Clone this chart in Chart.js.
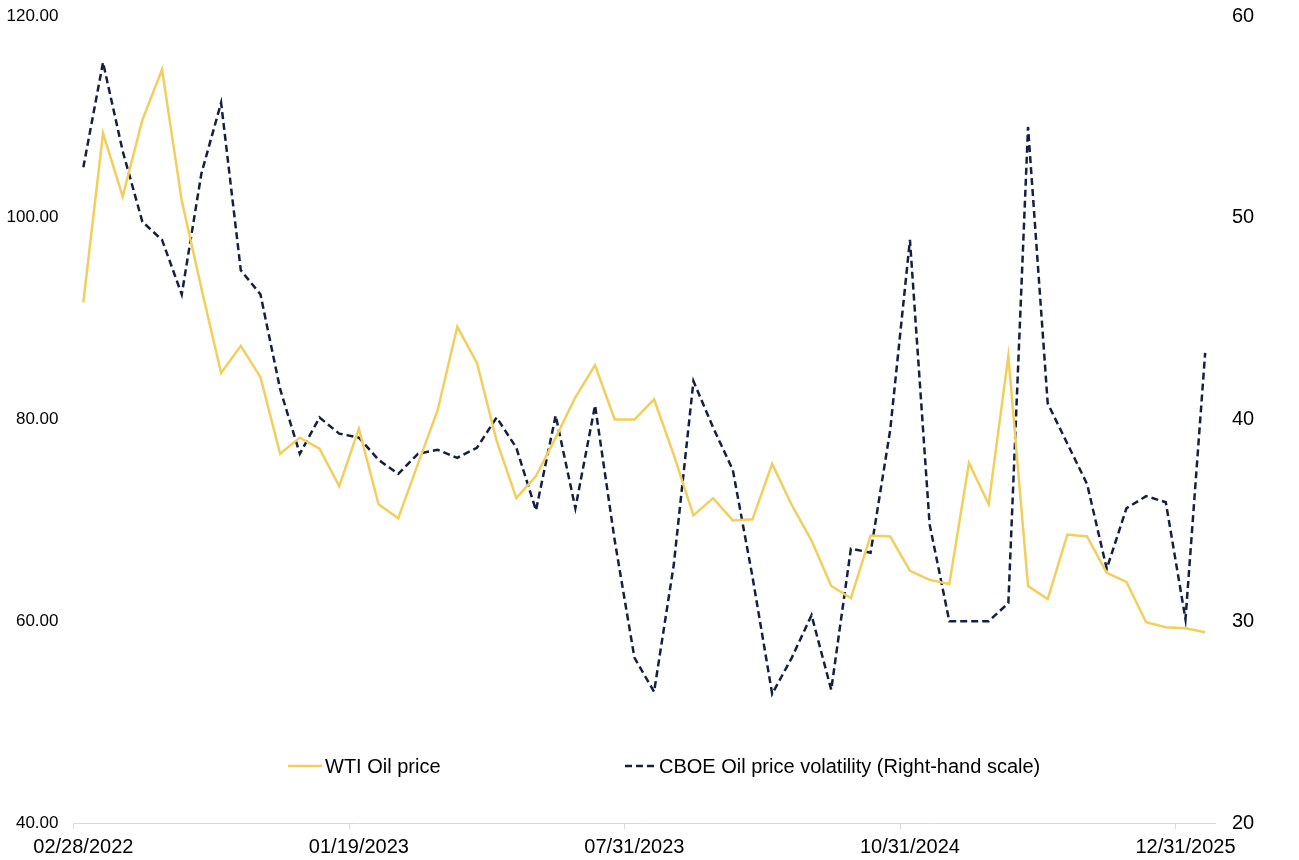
<!DOCTYPE html>
<html>
<head>
<meta charset="utf-8">
<title>WTI Oil price vs CBOE Oil price volatility</title>
<script src="https://cdn.jsdelivr.net/npm/chart.js@4.4.1/dist/chart.umd.min.js"></script>
<style>
  html, body { margin: 0; padding: 0; background: #fff; }
  #wrap { width: 1299px; height: 860px; position: relative; }
</style>
</head>
<body>
<div id="wrap"><canvas id="chart-oil"></canvas></div>
<script>
// ── Data
const tickLabels = ['02/28/2022', '01/19/2023', '07/31/2023', '10/31/2024', '12/31/2025'];
const tickEvery  = 14;

const wtiPrice = [
  91.6, 108.4, 102.1, 109.7, 114.7, 101.7, 93.0, 84.6, 87.3, 84.2,
  76.6, 78.2, 77.1, 73.4, 79.1, 71.6, 70.2, 75.6, 80.9, 89.2,
  85.6, 77.9, 72.2, 74.4, 78.2, 82.2, 85.4, 80.0, 80.0, 82.0,
  76.5, 70.5, 72.2, 70.0, 70.1, 75.6, 71.5, 68.0, 63.5, 62.3,
  68.5, 68.4, 65.0, 64.1, 63.7, 75.7, 71.6, 86.3, 63.5, 62.2,
  68.6, 68.4, 64.8, 63.9, 59.9, 59.4, 59.3, 58.9
];

const cboeVol = [
  52.5, 57.7, 53.3, 49.8, 48.9, 46.2, 52.2, 55.7, 47.4, 46.2,
  41.5, 38.3, 40.1, 39.3, 39.1, 38.0, 37.3, 38.3, 38.5, 38.1,
  38.6, 40.1, 38.6, 35.5, 40.2, 35.6, 40.7, 34.0, 28.2, 26.5,
  32.8, 41.9, 39.6, 37.5, 32.2, 26.4, 28.2, 30.3, 26.6, 33.6,
  33.4, 39.5, 48.9, 34.8, 30.0, 30.0, 30.0, 30.9, 54.5, 40.8,
  38.8, 36.8, 32.6, 35.6, 36.2, 35.9, 30.1, 43.3
];

// one category per observation, dates shown only every 14th
const categories = wtiPrice.map((_, i) => (i % tickEvery === 0 ? tickLabels[i / tickEvery] || '' : ''));

const YELLOW = '#F2CF5C';
const NAVY   = '#14203F';
const FONT   = '"Liberation Sans", Arial, Helvetica, sans-serif';

// ── Legend drawn inside the plot, just above the date axis
const inlineLegend = {
  id: 'inlineLegend',
  afterDraw(chart) {
    const { ctx, chartArea } = chart;
    const y = chartArea.bottom - 57;
    const items = [
      { x: 288, len: 34 },
      { x: 625, len: 31 },
    ];
    ctx.save();
    ctx.font = '20px ' + FONT;
    ctx.textBaseline = 'middle';
    ctx.fillStyle = '#000';
    chart.data.datasets.forEach((ds, i) => {
      const it = items[i];
      ctx.beginPath();
      ctx.strokeStyle = ds.borderColor;
      ctx.lineWidth = ds.borderWidth;
      ctx.setLineDash(ds.borderDash || []);
      ctx.moveTo(it.x, y);
      ctx.lineTo(it.x + it.len, y);
      ctx.stroke();
      ctx.setLineDash([]);
      ctx.fillText(ds.label, it.x + it.len + 3, y + 1);
    });
    ctx.restore();
  }
};

// fixed axis sizes so the plot area sits where the reference has it
const fitVertical = (width) => (s) => {
  s.width = width;
  s.paddingTop = 16;
  s.paddingBottom = 0;
};

new Chart(document.getElementById('chart-oil'), {
  type: 'line',
  data: {
    labels: categories,
    datasets: [
      {
        label: 'WTI Oil price',
        data: wtiPrice,
        yAxisID: 'y',
        borderColor: YELLOW,
        borderWidth: 2.5,
        pointRadius: 0,
        tension: 0,
      },
      {
        label: 'CBOE Oil price volatility (Right-hand scale)',
        data: cboeVol,
        yAxisID: 'y2',
        borderColor: NAVY,
        borderWidth: 2.5,
        borderDash: [7, 4],
        pointRadius: 0,
        tension: 0,
      }
    ]
  },
  options: {
    responsive: true,
    maintainAspectRatio: false,
    animation: false,
    layout: { padding: 0 },
    plugins: {
      legend: { display: false },
      tooltip: { enabled: false },
    },
    scales: {
      x: {
        type: 'category',
        offset: true,
        afterFit: (s) => { s.height = 37; },
        border: { display: true, color: '#D9D9D9', width: 1 },
        grid: {
          offset: true,
          drawOnChartArea: false,
          drawTicks: true,
          tickLength: 6,
          color: (c) => (c.index % tickEvery === 0 ? '#D9D9D9' : 'rgba(0,0,0,0)'),
        },
        ticks: {
          autoSkip: false,
          maxRotation: 0,
          minRotation: 0,
          padding: 6,
          color: '#000',
          font: { family: FONT, size: 20 },
        },
      },
      y: {
        position: 'left',
        min: 40, max: 120,
        afterFit: fitVertical(73.5),
        border: { display: false },
        grid: { display: false },
        ticks: {
          stepSize: 20,
          padding: 7,
          color: '#000',
          font: { family: FONT, size: 17 },
          callback: (v) => Number(v).toFixed(2),
        },
      },
      y2: {
        position: 'right',
        min: 20, max: 60,
        afterFit: fitVertical(84),
        border: { display: false },
        grid: { display: false },
        ticks: {
          stepSize: 10,
          padding: 9,
          color: '#000',
          font: { family: FONT, size: 20 },
        },
      },
    }
  },
  plugins: [inlineLegend]
});
</script>
</body>
</html>
